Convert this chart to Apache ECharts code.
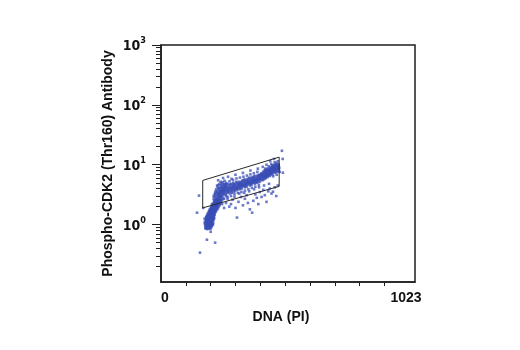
<!DOCTYPE html>
<html>
<head>
<meta charset="utf-8">
<script src="https://cdn.jsdelivr.net/npm/echarts@6/dist/echarts.min.js"></script>
<style>html,body{margin:0;padding:0;background:#fff}#c{width:520px;height:350px}</style>
</head>
<body>
<div id="c"></div>
<script>
// Axis ticks / labels
const xTickValues = [100, 200, 300, 400, 500, 600, 700, 800, 900];
const xLabelValues = [0, 1023];
const yMajorTicks = [1, 10, 100, 1000];
const yMinorTicks = [0.2,0.3,0.4,0.5,0.6,0.7,0.8,0.9, 2,3,4,5,6,7,8,9, 20,30,40,50,60,70,80,90, 200,300,400,500,600,700,800,900];
const xTitle = 'DNA (PI)';
const yTitle = 'Phospho-CDK2 (Thr160) Antibody';

// Gate polygon [DNA, CDK2]
const gate = [[168,5.47],[476,13.4],[476,4.35],[168,1.9],[168,5.47]];

// Events [DNA (PI) channel, Phospho-CDK2 intensity]
const g1Cells = [
[180,0.86],[186,0.84],[193,0.87],[199,0.85],[184,0.9],[190,0.89],[196,0.92],[202,0.9],[178,0.95],[182,0.93],[188,0.97],[194,0.95],[200,0.98],[205,0.96],
[179,1.01],[185,1.0],[191,1.03],[197,1.02],[203,1.05],[183,1.07],[189,1.06],[195,1.09],[201,1.08],[207,1.1],[177,1.12],[181,1.14],[187,1.13],[193,1.16],[199,1.15],[205,1.18],
[184,1.2],[190,1.22],[196,1.21],[202,1.24],[208,1.23],[180,1.27],[186,1.29],[192,1.28],[198,1.31],[204,1.3],[210,1.33],
[183,1.36],[189,1.38],[195,1.37],[201,1.4],[207,1.39],[213,1.42],[186,1.45],[192,1.47],[198,1.46],[204,1.49],[210,1.48],
[189,1.53],[195,1.55],[201,1.54],[207,1.57],[213,1.56],[217,1.6],[192,1.62],[198,1.64],[204,1.63],[210,1.66],[216,1.65],
[194,1.71],[200,1.73],[206,1.72],[212,1.75],[218,1.74],[197,1.8],[203,1.82],[209,1.81],[215,1.84],[221,1.83],
[200,1.9],[206,1.92],[212,1.91],[218,1.94],[224,1.93],[203,2.0],[209,2.03],[215,2.02],[221,2.05],[227,2.04],
[207,2.12],[213,2.15],[219,2.14],[225,2.17],[231,2.16],[210,2.25],[216,2.28],[222,2.27],[228,2.3],[234,2.29],
[214,2.4],[220,2.43],[226,2.42],[232,2.45],[238,2.44],[218,2.55],[224,2.58],[230,2.57],[236,2.6],[242,2.62],
[176,1.05],[209,1.0],[211,1.2],[176,1.25],[214,1.3],[205,2.2],[208,1.7],[222,2.5],
[179,0.88],[191,0.86],[197,0.89],[188,0.91],[203,0.93],[185,0.97],[197,0.96],[207,1.0],[181,1.04],[193,1.0],[199,1.06],[210,1.06],[185,1.11],[191,1.1],[197,1.12],[209,1.15],
[183,1.17],[189,1.18],[195,1.19],[206,1.21],[213,1.25],[188,1.25],[194,1.26],[200,1.29],[208,1.28],[182,1.32],[196,1.34],[205,1.35],[212,1.37],[186,1.4],[193,1.42],[209,1.44],
[216,1.46],[190,1.5],[200,1.51],[214,1.52],[194,1.58],[206,1.6],[212,1.61],[220,1.63],[196,1.67],[208,1.69],[214,1.7],[222,1.72],[200,1.77],[211,1.78],[218,1.8],[226,1.79],
[203,1.86],[210,1.88],[216,1.87],[222,1.9],[230,1.88],[206,1.96],[212,1.98],[224,1.99],[232,2.0],[211,2.08],[217,2.09],[223,2.1],[236,2.1],[214,2.2],[226,2.22],[238,2.24],
[218,2.33],[230,2.36],[240,2.38],[224,2.5],[234,2.52],[246,2.55],[228,2.68],[238,2.7],[250,2.74]
];
const transitionCells = [
[212,2.7],[216,2.9],[220,3.1],[224,2.8],[228,3.3],[232,3.0],[218,3.4],[226,3.6],[230,4.0],[234,3.8],[222,3.9],[228,4.3],[238,4.1],[242,4.6],[246,4.2],[250,4.0],
[254,4.4],[258,4.8],[238,3.4],[244,3.2],[214,2.5],[220,2.7],[226,3.0],[232,3.2],[236,3.0],[240,3.6],[248,3.5],[252,3.7],[256,3.9],[260,4.3],[230,2.7],[234,2.6],
[242,2.9],[220,3.6],[216,3.2],[224,3.4],[212,3.0],[246,4.9],[240,5.2],[232,4.6]
];
const sPhaseCells = [
[234,2.9],[238,3.2],[242,3.5],[246,3.0],[236,3.7],[244,3.9],[240,2.8],[248,3.3],[232,3.4],[245,3.6],
[252,3.1],[256,3.5],[260,3.8],[264,4.2],[254,4.0],[258,3.3],[262,3.6],[266,3.9],[250,3.7],[268,3.4],[257,4.4],[263,3.0],
[272,3.5],[276,3.9],[280,4.2],[284,3.7],[288,4.5],[274,4.3],[278,3.3],[282,4.0],[286,4.1],[270,3.9],[285,3.4],[279,4.7],
[292,3.8],[296,4.2],[300,4.6],[304,4.0],[308,4.4],[294,4.8],[298,3.6],[302,4.3],[306,5.0],[290,4.4],[305,3.8],[299,4.1],
[312,4.1],[316,4.5],[320,4.9],[324,4.3],[328,4.7],[314,5.2],[318,3.9],[322,4.6],[326,5.3],[310,4.6],[325,4.0],[319,4.4],
[332,4.4],[336,4.8],[340,5.2],[344,4.6],[348,5.0],[334,5.5],[338,4.2],[342,4.9],[346,5.6],[330,4.9],[345,4.3],[339,4.7],
[352,4.7],[356,5.1],[360,5.5],[364,4.9],[368,5.4],[354,5.9],[358,4.5],[362,5.2],[366,6.0],[350,5.3],[365,4.6],[359,5.0],
[372,5.0],[376,5.5],[380,5.9],[384,5.3],[388,5.8],[374,6.3],[378,4.8],[382,5.6],[386,6.4],[370,5.7],[385,5.0],[379,5.4],
[392,5.4],[396,5.9],[400,6.4],[394,6.8],[398,5.2],[391,6.1],[399,5.7],[395,6.3],
[236,4.8],[248,5.1],[262,5.0],[276,5.3],[290,5.6],[304,5.9],[318,6.1],[332,6.3],[346,6.6],[360,6.9],[374,7.2],[388,7.6],[226,4.5],[256,5.4],[284,5.8],
[240,2.5],[254,2.7],[268,2.9],[282,3.0],[296,3.2],[310,3.4],[324,3.5],[338,3.7],[352,3.9],[366,4.1],[380,4.3],[394,4.6],
[233,3.1],[237,3.5],[241,3.05],[243,4.3],[247,3.8],[249,4.5],[251,3.4],[253,4.7],[255,3.8],[259,4.1],[261,3.2],[265,4.5],[267,3.6],[269,4.8],[271,4.1],[273,3.7],
[277,4.5],[281,3.6],[283,4.8],[287,3.9],[289,4.2],[291,5.0],[293,4.5],[295,3.9],[297,4.7],[301,4.0],[303,5.2],[307,4.2],[309,4.8],[311,3.9],[313,4.7],[315,4.3],
[317,5.0],[321,4.2],[323,5.1],[327,4.5],[329,5.5],[331,4.6],[333,5.1],[335,4.4],[337,5.7],[341,4.5],[343,5.3],[347,4.8],[349,5.8],[351,5.0],[353,5.4],[355,4.8],
[357,6.1],[361,4.9],[363,5.7],[367,5.1],[369,6.2],[371,5.3],[373,5.8],[375,5.1],[377,6.5],[381,5.2],[383,6.0],[387,5.5],[389,6.6],[390,5.1],[393,5.7],[397,6.6],
[401,5.9],[236,4.1],[264,4.7],[292,3.5],[318,4.8],[344,5.1],[372,5.5]
];
const g2Cells = [
[402,5.6],[406,6.2],[410,6.8],[404,7.2],[408,5.9],[412,6.5],[416,7.0],[414,5.7],[418,6.3],[420,7.5],[422,6.0],[424,6.8],[426,7.8],[428,6.4],[430,7.1],[432,8.0],[434,6.7],[436,7.4],[438,8.3],[440,6.9],
[442,7.7],[444,8.6],[446,7.2],[448,8.0],[450,9.0],[452,7.5],[454,8.3],[456,9.3],[458,7.8],[460,8.6],[462,9.6],[464,8.1],[466,8.9],[468,9.9],[470,8.4],[472,9.2],[474,10.2],
[405,6.6],[415,6.1],[425,7.2],[435,7.9],[445,7.5],[455,8.8],[465,9.4],[411,7.4],[421,6.5],[431,7.6],[441,8.2],[451,8.5],[461,8.9],[471,9.6],
[403,6.9],[413,7.7],[423,8.2],[433,6.6],[443,7.0],[453,9.6],[463,7.6],[473,8.0],[409,5.5],[419,5.9],[429,6.2],[439,6.5],[449,6.9],[459,7.3],[469,7.6],
[417,8.0],[427,8.6],[437,8.9],[447,9.3],[457,10.0],[467,10.5],[444,10.3],[458,11.0],[470,11.4],[476,9.0],[478,7.6],[466,6.8],[452,6.4],
[401,6.7],[407,7.0],[409,6.3],[413,6.9],[417,6.6],[419,7.2],[421,7.8],[423,6.4],[427,7.0],[429,7.7],[431,6.8],[433,8.4],[437,7.2],[439,7.9],[441,7.4],[443,9.0],
[445,8.2],[447,7.8],[449,8.7],[451,7.9],[453,8.1],[455,7.7],[457,8.5],[459,9.1],[461,8.2],[463,8.6],[465,8.0],[467,9.6],[469,8.8],[471,9.0],[473,9.8],[475,8.5],
[436,8.1],[446,8.4],[456,9.6],[466,9.2],[426,7.4],[416,6.4],[406,5.8],[462,10.4],[448,9.8],[434,9.4],[420,8.6]
];
const lowEvents = [
[262,2.3],[275,2.0],[288,2.6],[300,1.9],[306,1.31],[312,2.4],[322,2.9],[330,2.1],[338,2.7],[345,3.1],[350,2.3],[358,1.8],[367,1.58],[372,2.5],
[380,3.2],[386,2.8],[392,2.2],[398,3.5],[405,2.9],[412,3.8],[418,3.1],[425,2.4],[432,3.6],[438,4.0],[445,3.3],[451,3.55],[458,4.2],[464,3.0],[470,4.5],
[246,2.2],[254,1.9],[268,2.7],[282,2.2],[296,2.9],[315,3.3],[335,3.4],[355,3.6],[375,3.9],[395,4.2],[415,4.5],[435,4.8]
];
const highEvents = [[230,5.5],[250,6.0],[270,6.3],[300,6.8],[330,7.3],[360,8.0],[390,8.6],[410,9.2],[425,10.0],[440,11.5],[455,12.5]];
const outlierEvents = [[157,0.34],[218,0.5],[185,0.56],[145,1.58],[153,3.05],[487,17.1],[491,7.36],[200,0.76],[170,1.9],[490,12.5]];

const events = [].concat(g1Cells, transitionCells, sPhaseCells, g2Cells, lowEvents, highEvents, outlierEvents);

const frameColor = '#1e1e1e';
const narrow = "'Liberation Sans Narrow','DejaVu Sans Condensed','Liberation Sans',sans-serif";
const sans = "'Liberation Sans',Arial,sans-serif";

const chart = echarts.init(document.getElementById('c'), null, {renderer: 'canvas'});
chart.setOption({
  animation: false,
  backgroundColor: '#fff',
  grid: {left: 161, top: 45, right: 105, bottom: 68, show: true, borderColor: frameColor, borderWidth: 1.5, backgroundColor: 'transparent'},
  xAxis: {
    type: 'value', min: 0, max: 1023,
    name: xTitle, nameLocation: 'middle', nameGap: 20,
    nameTextStyle: {fontFamily: sans, fontWeight: 'bold', fontSize: 14, color: '#111', padding: [0, 14, 0, 0]},
    axisLine: {show: true, lineStyle: {color: frameColor, width: 1.5}},
    axisTick: {show: true, length: 4, lineStyle: {color: frameColor, width: 1}, customValues: xTickValues},
    axisLabel: {
      show: true, margin: 9, customValues: xLabelValues,
      formatter: v => (v === 0 ? '{z|0}' : '{m|' + v + '}'),
      rich: {
        z: {fontFamily: sans, fontWeight: 'bold', fontSize: 14, color: '#111', padding: [0, 0, 0, 8]},
        m: {fontFamily: sans, fontWeight: 'bold', fontSize: 14, color: '#111', padding: [0, 18, 0, 0]}
      }
    },
    splitLine: {show: false}
  },
  yAxis: [{
    type: 'log', logBase: 10, min: 0.11, max: 1000,
    name: yTitle, nameLocation: 'middle', nameGap: 46, nameRotate: 90,
    nameTextStyle: {fontFamily: sans, fontWeight: 'bold', fontSize: 14, color: '#111'},
    axisLine: {show: true, lineStyle: {color: frameColor, width: 1.5}},
    axisTick: {show: true, length: 9, lineStyle: {color: frameColor, width: 1}, customValues: yMajorTicks},
    axisLabel: {
      show: true, margin: 15, customValues: yMajorTicks,
      formatter: v => '{b|10}{s|' + Math.round(Math.log10(v)) + '}',
      rich: {
        b: {fontFamily: narrow, fontWeight: 'bold', fontSize: 14, color: '#111', verticalAlign: 'bottom'},
        s: {fontFamily: narrow, fontWeight: 'bold', fontSize: 9, color: '#111', verticalAlign: 'top', padding: [0, 0, 8, 0]}
      }
    },
    splitLine: {show: false}
  }, {
    type: 'log', logBase: 10, min: 0.11, max: 1000, position: 'left',
    axisLine: {show: false},
    axisTick: {show: true, length: 5, lineStyle: {color: frameColor, width: 1}, customValues: yMinorTicks},
    axisLabel: {show: false},
    splitLine: {show: false}
  }],
  series: [{
    type: 'scatter', xAxisIndex: 0, yAxisIndex: 0,
    data: events, symbol: 'rect', symbolSize: 2.6,
    itemStyle: {color: '#3a4db5', opacity: 0.75},
    silent: true
  }, {
    type: 'line', xAxisIndex: 0, yAxisIndex: 0,
    data: gate, showSymbol: false, symbol: 'none',
    lineStyle: {color: '#2a2a2a', width: 1},
    silent: true, z: 3
  }]
});
</script>
</body>
</html>
